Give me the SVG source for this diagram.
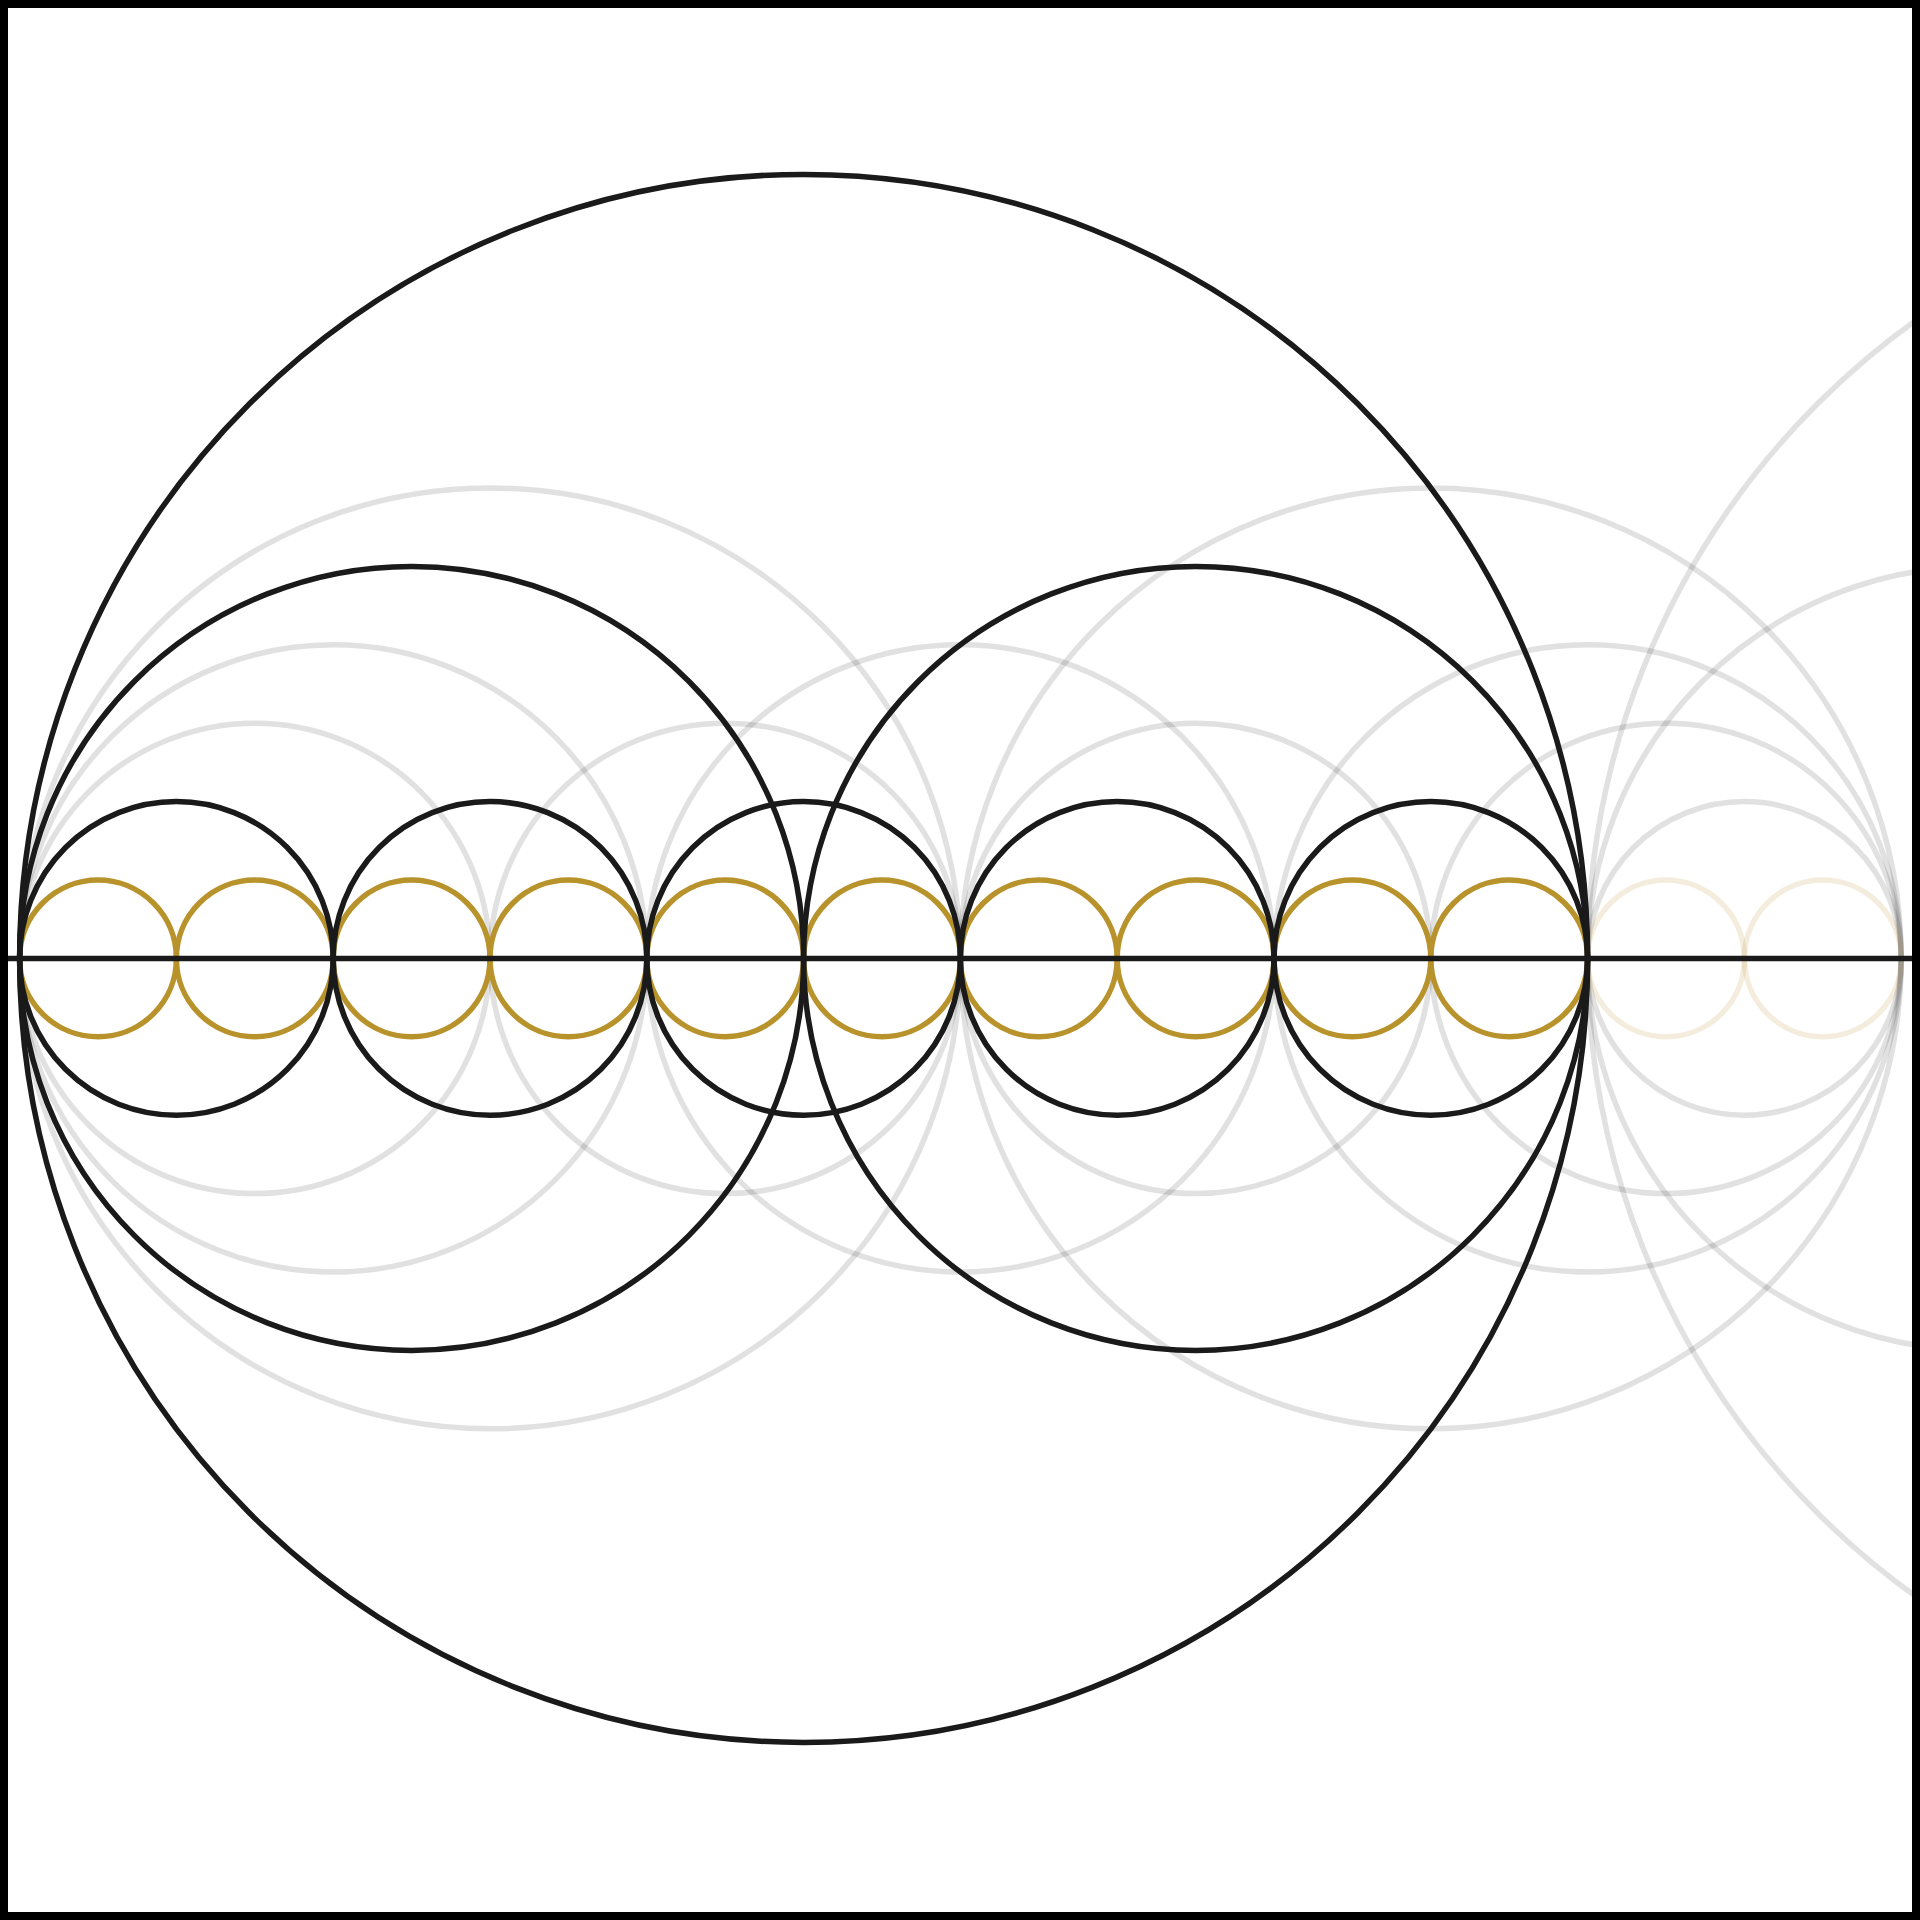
<svg xmlns="http://www.w3.org/2000/svg" width="1920" height="1920" viewBox="0 0 1920 1920">
<style>
.g{fill:none;stroke:#1a1a1a;stroke-opacity:0.13;stroke-width:5.5}
.au{fill:none;stroke:#b8922b;stroke-width:5.5}
.auf{fill:none;stroke:#b8922b;stroke-opacity:0.16;stroke-width:5.5}
.k{fill:none;stroke:#1a1a1a;stroke-width:5.5}
</style>
<rect x="0" y="0" width="1920" height="1920" fill="#ffffff"/>
<g id="gray-circles">
<circle class="g" cx="254.8" cy="958.4" r="235.2"/>
<circle class="g" cx="725.2" cy="958.4" r="235.2"/>
<circle class="g" cx="1195.6" cy="958.4" r="235.2"/>
<circle class="g" cx="1666" cy="958.4" r="235.2"/>
<circle class="g" cx="333.2" cy="958.4" r="313.6"/>
<circle class="g" cx="960.4" cy="958.4" r="313.6"/>
<circle class="g" cx="1587.6" cy="958.4" r="313.6"/>
<circle class="g" cx="490" cy="958.4" r="470.4"/>
<circle class="g" cx="1430.8" cy="958.4" r="470.4"/>
<circle class="g" cx="1744.4" cy="958.4" r="156.8"/>
<circle class="g" cx="1979.6" cy="958.4" r="392"/>
<circle class="g" cx="2371.6" cy="958.4" r="784"/>
</g>
<g id="gold-circles">
<circle class="au" cx="98" cy="958.4" r="78.4"/>
<circle class="au" cx="254.8" cy="958.4" r="78.4"/>
<circle class="au" cx="411.6" cy="958.4" r="78.4"/>
<circle class="au" cx="568.4" cy="958.4" r="78.4"/>
<circle class="au" cx="725.2" cy="958.4" r="78.4"/>
<circle class="au" cx="882" cy="958.4" r="78.4"/>
<circle class="au" cx="1038.8" cy="958.4" r="78.4"/>
<circle class="au" cx="1195.6" cy="958.4" r="78.4"/>
<circle class="au" cx="1352.4" cy="958.4" r="78.4"/>
<circle class="au" cx="1509.2" cy="958.4" r="78.4"/>
<circle class="auf" cx="1666" cy="958.4" r="78.4"/>
<circle class="auf" cx="1822.8" cy="958.4" r="78.4"/>
</g>
<g id="black-circles">
<circle class="k" cx="176.4" cy="958.4" r="156.8"/>
<circle class="k" cx="490" cy="958.4" r="156.8"/>
<circle class="k" cx="803.6" cy="958.4" r="156.8"/>
<circle class="k" cx="1117.2" cy="958.4" r="156.8"/>
<circle class="k" cx="1430.8" cy="958.4" r="156.8"/>
<circle class="k" cx="411.6" cy="958.4" r="392"/>
<circle class="k" cx="1195.6" cy="958.4" r="392"/>
<circle class="k" cx="803.6" cy="958.4" r="784"/>
</g>
<g id="axis">
<line x1="8" y1="958.4" x2="1912" y2="958.4" stroke="#1a1a1a" stroke-width="5.5"/>
</g>
<rect id="frame" x="4" y="4" width="1912" height="1912" fill="none" stroke="#000" stroke-width="8"/>
</svg>
